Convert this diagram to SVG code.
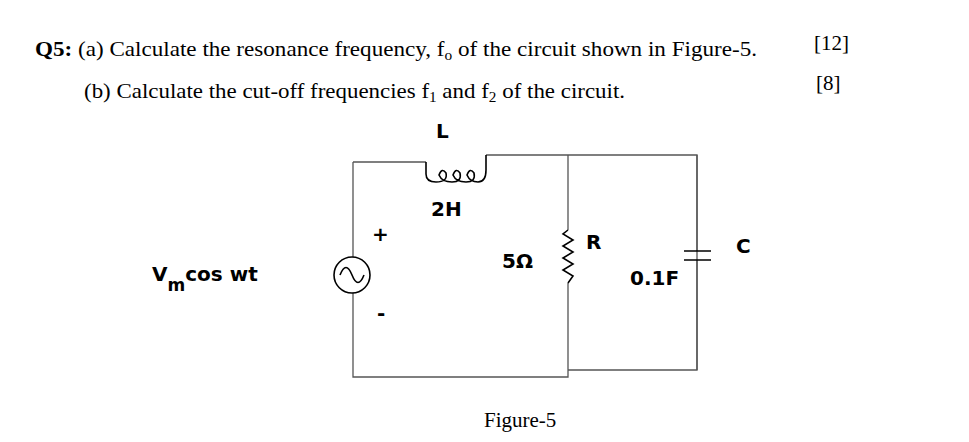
<svg xmlns="http://www.w3.org/2000/svg" width="969" height="442" viewBox="0 0 969 442">
<style>
.t{font-family:"Liberation Serif",serif;font-size:21px;fill:#000}
.s{font-family:"DejaVu Sans",sans-serif;font-weight:bold;font-size:20px;fill:#000}
.w{fill:none;stroke:#555;stroke-width:1.3}
.c{fill:none;stroke:#000;stroke-width:1.6}
</style>
<rect width="969" height="442" fill="#fff"/>
<text class="t" x="35" y="56" textLength="722" lengthAdjust="spacingAndGlyphs"><tspan font-weight="bold">Q5:</tspan> (a) Calculate the resonance frequency, f<tspan font-size="14" dy="4">o</tspan><tspan dy="-4"> of the circuit shown in Figure-5.</tspan></text>
<text class="t" x="814" y="50">[12]</text>
<text class="t" x="84" y="98" textLength="541" lengthAdjust="spacingAndGlyphs">(b) Calculate the cut-off frequencies f<tspan font-size="14" dy="4">1</tspan><tspan dy="-4"> and f</tspan><tspan font-size="14" dy="4">2</tspan><tspan dy="-4"> of the circuit.</tspan></text>
<text class="t" x="816" y="90">[8]</text>
<g id="connectors">
<path class="w" d="M353 162 H426 M486 155 H697 V370 H568 M353 162 V257 M353 293 V377 H568 V370 M568 155 V230 M568 283 V370"/>
</g>
<g id="source">
<circle class="c" cx="352" cy="275" r="18"/>
<path class="c" d="M340 275 C344 265 348 265 352 275 S360 285 364 275"/>
<text class="s" x="372" y="241">+</text>
<text class="s" x="377" y="320">-</text>
<text class="s" x="152" y="281">V<tspan font-size="17" dy="10">m</tspan><tspan dy="-10">cos wt</tspan></text>
</g>
<g id="inductor">
<path class="c" d="M426 162 V174 Q426 182 436 182 Q448 182 446 173 Q442 167 439 175 Q442 182 452 182 Q462 182 460 173 Q456 167 453 175 Q456 182 466 182 Q476 182 474 173 Q470 167 467 175 Q470 182 478 182 Q486 182 486 170 L486 155"/>
<text class="s" x="436" y="138">L</text>
<text class="s" x="431" y="216">2H</text>
</g>
<g id="resistor">
<path class="c" d="M568 230 L563 234 L573 240 L563 246 L573 252 L563 258 L573 264 L563 270 L573 276 L568 283"/>
<text class="s" x="586" y="249">R</text>
<text class="s" x="502" y="268">5Ω</text>
</g>
<g id="capacitor">
<path class="w" d="M697 155 V251 M697 260 V370"/>
<path class="c" d="M684 251 H711 M684 260 H711"/>
<text class="s" x="736" y="253">C</text>
<text class="s" x="630" y="285">0.1F</text>
</g>
<text class="t" x="484" y="427">Figure-5</text>
</svg>
